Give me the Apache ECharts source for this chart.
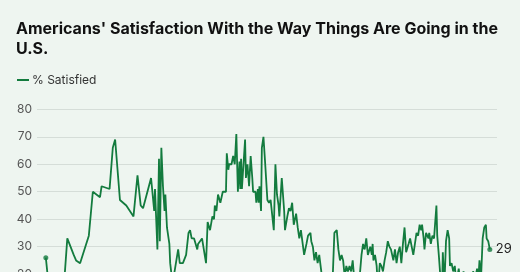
<!DOCTYPE html>
<html>
<head>
<meta charset="utf-8">
<script src="https://cdn.jsdelivr.net/npm/echarts@6.0.0/dist/echarts.min.js"></script>
<style>
	html, body { margin: 0; padding: 0; width: 520px; height: 272px; overflow: hidden; background: #eef5f0; }
	#main { width: 520px; height: 360px; }
</style>
</head>
<body>
<div id="main"></div>
<script>
// survey dates and % satisfied
var dates = [
	'1979-02', '1979-07', '1979-11', '1981-01', '1981-05', '1982-01', '1982-04', '1982-09', '1983-08',
	'1984-01', '1984-10', '1984-12', '1985-10', '1986-02', '1986-05', '1986-11', '1987-07', '1988-04',
	'1988-09', '1989-01', '1989-04', '1990-02', '1990-06', '1990-07', '1990-10', '1990-12', '1991-01',
	'1991-03', '1991-05', '1991-07', '1991-08', '1991-10', '1992-01', '1992-02', '1992-06', '1992-07',
	'1992-12', '1993-02', '1993-06', '1993-10', '1994-01', '1994-03', '1994-05', '1994-08', '1994-12',
	'1995-01', '1995-06', '1995-11', '1996-01', '1996-04', '1996-07', '1996-09', '1996-10', '1996-12',
	'1997-02', '1997-05', '1997-08', '1997-12', '1998-01', '1998-03', '1998-04', '1998-07', '1998-09',
	'1998-11', '1999-01', '1999-03', '1999-05', '1999-06', '1999-07', '1999-08', '1999-12', '2000-01',
	'2000-03', '2000-05', '2000-07', '2000-09', '2000-10', '2001-01', '2001-02', '2001-04', '2001-05',
	'2001-06', '2001-08', '2001-09', '2001-11', '2002-01', '2002-04', '2002-06', '2002-08', '2002-12',
	'2003-02', '2003-04', '2003-06', '2003-07', '2003-10', '2004-01', '2004-02', '2004-05', '2004-07',
	'2004-09', '2004-11', '2005-01', '2005-04', '2005-06', '2005-08', '2005-10', '2006-02', '2006-05',
	'2006-07', '2006-10', '2006-11', '2007-01', '2007-03', '2007-05', '2007-07', '2007-09', '2007-12',
	'2008-03', '2008-06', '2008-10', '2008-12', '2009-02', '2009-04', '2009-07', '2009-09', '2009-11',
	'2010-01', '2010-03', '2010-05', '2010-07', '2010-09', '2010-11', '2011-01', '2011-03', '2011-05',
	'2011-08', '2011-10', '2011-12', '2012-02', '2012-04', '2012-06', '2012-08', '2012-10', '2013-01',
	'2013-03', '2013-04', '2013-05', '2013-07', '2013-09', '2013-10', '2013-12', '2014-01', '2014-03',
	'2014-05', '2014-07', '2014-09', '2014-11', '2015-01', '2015-03', '2015-06', '2015-08', '2015-10',
	'2015-12', '2016-02', '2016-04', '2016-06', '2016-08', '2016-10', '2017-01', '2017-03', '2017-05',
	'2017-07', '2017-09', '2017-11', '2018-01', '2018-03', '2018-05', '2018-06', '2018-08', '2018-09',
	'2018-11', '2019-02', '2019-03', '2019-05', '2019-07', '2019-09', '2019-12', '2020-01', '2020-03',
	'2020-05', '2020-07', '2020-08', '2020-10', '2020-12', '2021-02', '2021-04', '2021-05', '2021-07',
	'2021-09', '2021-11', '2022-01', '2022-04', '2022-06', '2022-07', '2022-10', '2022-12', '2023-02',
	'2023-05', '2023-09', '2023-10', '2024-01', '2024-03', '2024-05', '2024-06', '2024-08', '2024-10',
	'2024-12', '2025-02', '2025-03', '2025-05', '2025-07'
];
var satisfied = [
	26, 12, 19, 17, 33, 27, 25, 24, 34,
	50, 48, 52, 51, 66, 69, 47, 45, 41,
	56, 45, 44, 55, 43, 51, 29, 62, 32,
	66, 52, 43, 49, 37, 31, 24, 14, 20,
	29, 24, 24, 27, 35, 36, 33, 33, 29,
	31, 33, 24, 39, 36, 41, 40, 45, 43,
	49, 46, 50, 50, 64, 58, 60, 60, 63,
	60, 71, 50, 61, 51, 62, 51, 69, 55,
	60, 52, 63, 55, 50, 50, 46, 51, 46,
	52, 43, 66, 70, 61, 47, 46, 47, 36,
	60, 49, 45, 41, 55, 43, 36, 41, 44,
	43, 46, 38, 42, 37, 33, 36, 27, 31,
	34, 35, 32, 30, 25, 28, 24, 27, 20,
	15, 14, 7, 13, 20, 35, 36, 29, 25,
	27, 25, 19, 23, 21, 23, 21, 25, 18,
	11, 13, 20, 27, 31, 29, 33, 27, 30,
	27, 31, 25, 27, 23, 18, 20, 24, 23,
	21, 25, 28, 32, 30, 29, 25, 29, 24,
	28, 30, 24, 31, 37, 28, 31, 33, 30,
	27, 31, 35, 34, 38, 36, 38, 33, 29,
	35, 33, 35, 31, 34, 33, 45, 34, 27,
	19, 13, 28, 16, 32, 36, 33, 23, 24,
	21, 23, 17, 22, 16, 13, 21, 18, 15,
	16, 20, 21, 19, 22, 20, 25, 19, 33,
	37, 38, 33, 32, 29
];
var yTicks = { min : 0, max : 80, step : 10 };

var lineColor = '#137b3e';
var last = dates.length - 1;

var points = [];
for (var i = 0; i < dates.length; i++) {
	points.push([dates[i], satisfied[i]]);
}

var myChart = echarts.init(document.getElementById('main'), null, { renderer : 'canvas' });
option = {
	animation : false,
	backgroundColor : '#eef5f0',
	textStyle : { fontFamily : 'Inter' },
	title : {
		text : "Americans' Satisfaction With the Way Things Are Going in the\nU.S.",
		left : 11,
		top : 14,
		textStyle : {
			fontFamily : 'Inter',
			fontWeight : 700,
			fontSize : 16,
			lineHeight : 20,
			color : '#111111'
		}
	},
	legend : {
		left : 12,
		top : 69,
		icon : 'rect',
		itemWidth : 12,
		itemHeight : 2,
		itemGap : 10,
		data : [ '% Satisfied' ],
		textStyle : {
			fontFamily : 'Inter',
			fontSize : 12,
			color : '#333333',
			padding : [ 0, 0, 0, -2 ]
		}
	},
	grid : {
		left : 37,
		right : 23,
		top : 109.3,
		height : 219.8
	},
	xAxis : {
		type : 'time',
		min : '1978-03-01',
		max : '2026-04-01',
		axisLine : { show : false },
		axisTick : { show : false },
		axisLabel : { show : false },
		splitLine : { show : false }
	},
	yAxis : {
		type : 'value',
		min : yTicks.min,
		max : yTicks.max,
		interval : yTicks.step,
		axisLine : { show : false },
		axisTick : { show : false },
		axisLabel : {
			margin : 5,
			fontFamily : 'Inter',
			fontSize : 12,
			color : '#555555'
		},
		splitLine : { lineStyle : { color : '#d5ddd8', width : 1 } }
	},
	series : [ {
		name : '% Satisfied',
		type : 'line',
		data : points,
		showSymbol : false,
		color : lineColor,
		lineStyle : { width : 1.8, color : lineColor },
		endLabel : {
			show : true,
			distance : 6,
			formatter : function(p) { return p.value[1]; },
			fontFamily : 'Inter',
			fontSize : 13,
			color : '#222222'
		}
	}, {
		type : 'scatter',
		data : [ points[0], points[last] ],
		symbolSize : 5,
		itemStyle : { color : lineColor },
		z : 3
	} ]
};
myChart.setOption(option);
</script>
</body>
</html>
